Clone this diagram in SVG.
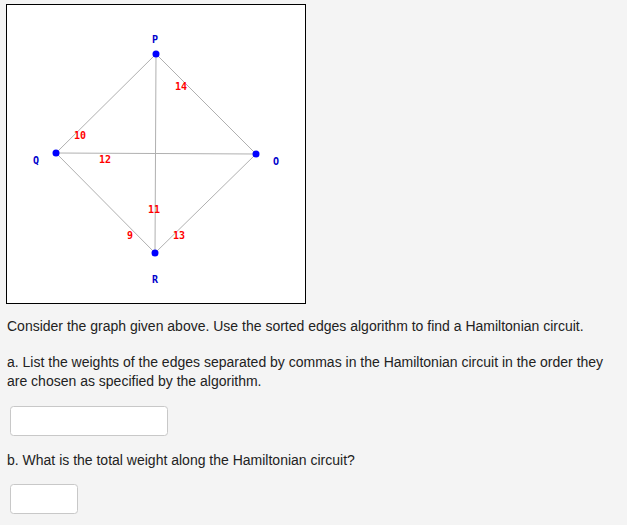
<svg xmlns="http://www.w3.org/2000/svg" width="627" height="525" viewBox="0 0 627 525">
<style>
.e{stroke:#b0b0b0;stroke-width:1;fill:none}
.n{fill:#0000ff}
.nl{font-family:"DejaVu Sans Mono",monospace;font-weight:bold;font-size:10px;fill:#0000cc;text-anchor:middle}
.w{font-family:"DejaVu Sans Mono",monospace;font-weight:bold;font-size:10px;fill:#ff0000;text-anchor:middle}
.t{font-family:"Liberation Sans",Arial,sans-serif;font-size:14px;fill:#222}
.in{fill:#fff;stroke:#c8c8c8;stroke-width:1}
</style>
<rect width="627" height="525" fill="#f4f4f4"/>
<rect x="6.5" y="4.5" width="299" height="299" fill="#fff" stroke="#000"/>
<g id="edges">
<line class="e" x1="156" y1="54" x2="56" y2="153"/>
<line class="e" x1="156" y1="54" x2="256" y2="154"/>
<line class="e" x1="56" y1="153" x2="256" y2="154"/>
<line class="e" x1="156" y1="54" x2="155" y2="253"/>
<line class="e" x1="56" y1="153" x2="155" y2="253"/>
<line class="e" x1="256" y1="154" x2="155" y2="253"/>
<text class="w" x="181" y="90">14</text>
<text class="w" x="80" y="139">10</text>
<text class="w" x="105" y="163">12</text>
<text class="w" x="154" y="213">11</text>
<text class="w" x="130" y="239">9</text>
<text class="w" x="179" y="239">13</text>
</g>
<g id="P"><circle class="n" cx="156" cy="54" r="3.5"/><text class="nl" x="155" y="43">P</text></g>
<g id="Q"><circle class="n" cx="56" cy="153" r="3.5"/><text class="nl" x="36" y="164">Q</text></g>
<g id="O"><circle class="n" cx="256" cy="154" r="3.5"/><text class="nl" x="276" y="165">O</text></g>
<g id="R"><circle class="n" cx="155" cy="253" r="3.5"/><text class="nl" x="155" y="283">R</text></g>
<text class="t" x="7" y="331">Consider the graph given above. Use the sorted edges algorithm to find a Hamiltonian circuit.</text>
<text class="t" x="7" y="367">a. List the weights of the edges separated by commas in the Hamiltonian circuit in the order they</text>
<text class="t" x="7" y="386">are chosen as specified by the algorithm.</text>
<rect class="in" x="10.5" y="406.5" width="157" height="29" rx="3"/>
<text class="t" x="7" y="465">b. What is the total weight along the Hamiltonian circuit?</text>
<rect class="in" x="10.5" y="484.5" width="67" height="29" rx="3"/>
</svg>
